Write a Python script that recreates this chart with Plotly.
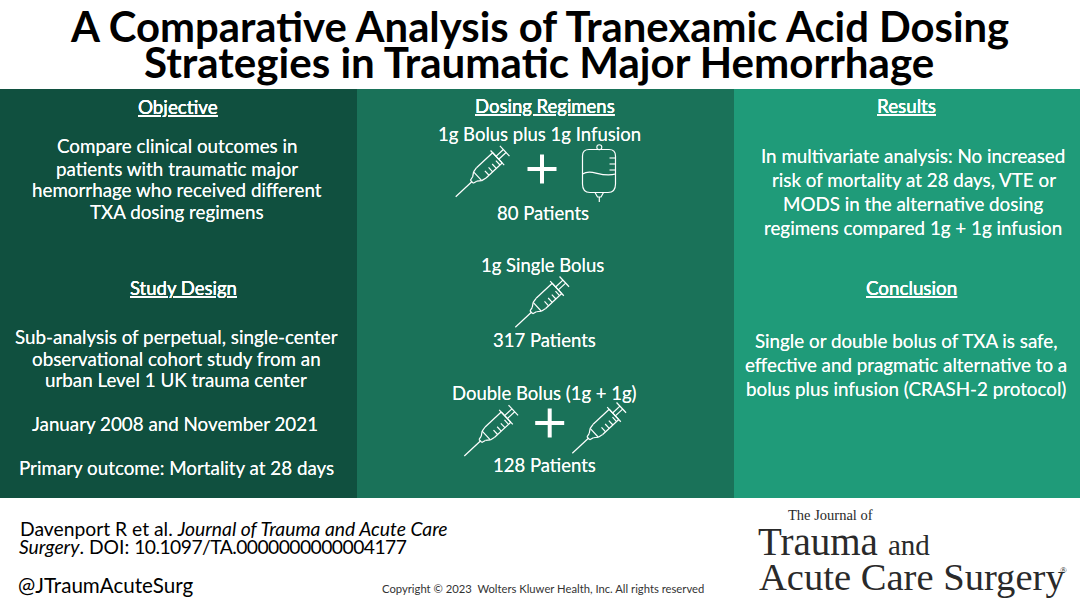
import math
import plotly.graph_objects as go

W, H = 1080, 608
SANS = "Lato"
SERIF = "Liberation Serif"
BODY = 18.8
MIDDLE = 18.5
FATTEN = "0 0 0.5px rgba(255,255,255,0.8)"

title_lines = ["A Comparative Analysis of Tranexamic Acid Dosing",
               "Strategies in Traumatic Major Hemorrhage"]
panel_colors = ["#10503f", "#1a7259", "#1f9b79"]

objective_lines = ["Compare clinical outcomes in", "patients with traumatic major",
                   "hemorrhage who received different", "TXA dosing regimens"]
design_lines = ["Sub-analysis of perpetual, single-center", "observational cohort study from an",
                "urban Level 1 UK trauma center"]
dates_line = "January 2008 and November 2021"
primary_line = "Primary outcome: Mortality at 28 days"

regimens = ["1g Bolus plus 1g Infusion", "1g Single Bolus", "Double Bolus (1g + 1g)"]
patients = ["80 Patients", "317 Patients", "128 Patients"]

results_lines = ["In multivariate analysis: No increased", "risk of mortality at 28 days, VTE or",
                 "MODS in the alternative dosing", "regimens compared 1g + 1g infusion"]
conclusion_lines = ["Single or double bolus of TXA is safe,", "effective and pragmatic alternative to a",
                    "bolus plus infusion (CRASH-2 protocol)"]

fig = go.Figure()
shapes = []
annos = []


def txt(x, y, s, size=BODY, color="white", font=SANS, anchor="center", shadow=FATTEN):
    annos.append(dict(x=x, y=y, text=s, showarrow=False, xanchor=anchor, yanchor="middle",
                      font=dict(family=font, size=size, color=color, shadow=shadow), align=anchor))


def line(x0, y0, x1, y1, width=1.2):
    shapes.append(dict(type="line", x0=x0, y0=y0, x1=x1, y1=y1,
                       line=dict(color="white", width=width)))


def syringe(tx, ty):
    # tip of the needle at tx, ty, the body goes up and to the right
    c = math.cos(math.radians(43))
    s = math.sin(math.radians(43))

    def p(t, w):
        return tx + t * c + w * s, ty - t * s + w * c

    def seg(t0, w0, t1, w1):
        a = p(t0, w0)
        b = p(t1, w1)
        line(a[0], a[1], b[0], b[1])

    seg(0, 0, 22, 0)
    outline = [(22, -2), (26, -3), (30, -6), (35, -7), (57, -7), (57, 7), (35, 7), (30, 6), (26, 3), (22, 2), (22, -2)]
    for a, b in zip(outline[:-1], outline[1:]):
        seg(a[0], a[1], b[0], b[1])
    seg(30, -6, 30, 6)
    seg(57, -10, 57, 10)
    seg(57, -2, 67, -2)
    seg(57, 2, 67, 2)
    seg(67, -7, 67, 7)
    for t in (39, 44, 49, 54):
        seg(t, 7, t, 1)


def plus(cx, cy, half):
    line(cx - half, cy, cx + half, cy, 4)
    line(cx, cy - half, cx, cy + half, 4)


def iv_bag():
    shapes.append(dict(type="path", line=dict(color="white", width=1.2),
                       path="M 589 149.5 L 609 149.5 Q 615.5 149.5 615.5 156 L 615.5 184 "
                            "Q 615.5 192.5 608 192.5 L 590 192.5 Q 582.5 192.5 582.5 184 "
                            "L 582.5 156 Q 582.5 149.5 589 149.5 Z"))
    shapes.append(dict(type="circle", x0=596.8, y0=144.8, x1=601.8, y1=149.6,
                       line=dict(color="white", width=1.1)))
    shapes.append(dict(type="path", line=dict(color="white", width=1.2),
                       path="M 582.5 174 C 592 168 600 178 615.5 174"))
    shapes.append(dict(type="path", line=dict(color="white", width=1.2),
                       path="M 595 192.5 L 597.5 197 L 601 197 L 603.5 192.5"))
    line(599.3, 197, 599.3, 202)
    for y in (158, 164, 170):
        line(609.5, y, 615.5, y, 1.1)


for x0, x1, col in zip((0, 357, 734), (357, 734, 1080), panel_colors):
    shapes.append(dict(type="rect", x0=x0, x1=x1, y0=89, y1=498, fillcolor=col, line=dict(width=0), layer="below"))

txt(539, 26, "<b>" + title_lines[0] + "</b>", 41.8, "black", shadow="none")
txt(539, 61, "<b>" + title_lines[1] + "</b>", 42.1, "black", shadow="none")

txt(178, 106, "<u>Objective</u>")
for y, s in zip((145, 168, 189, 211), objective_lines):
    txt(176.5, y, s)
txt(183, 288, "<u>Study Design</u>", MIDDLE)
for y, s in zip((336, 358, 379), design_lines):
    txt(176, y, s)
txt(175, 423, dates_line)
txt(176, 467, primary_line)

txt(545, 106, "<u>Dosing Regimens</u>", MIDDLE)
txt(539, 134, regimens[0], MIDDLE)
txt(543, 213, patients[0], MIDDLE)
txt(542.5, 265, regimens[1], MIDDLE)
txt(544, 340, patients[1], MIDDLE)
txt(544.5, 393, regimens[2], MIDDLE)
txt(544, 465, patients[2], MIDDLE)

syringe(455.7, 196.7)
syringe(515.3, 327.3)
syringe(464.3, 456)
syringe(572.3, 453.3)
plus(542, 169, 14.5)
plus(549.7, 423, 14.5)
iv_bag()

txt(906, 105, "<u>Results</u>")
for x, y, s in zip((913, 914, 913, 913), (155, 179, 203, 227), results_lines):
    txt(x, y, s)
txt(911, 287, "<u>Conclusion</u>")
for y, s in zip((340, 364, 388), conclusion_lines):
    txt(906, y, s)

txt(18, 528, "Davenport R et al. <i>Journal of Trauma and Acute Care</i>", 19.3, "black", anchor="left", shadow="none")
txt(17, 546, "<i>Surgery</i>. DOI: <span style=\"letter-spacing:-0.55px\">10.1097/TA.0000000000004177</span>",
    19.3, "black", anchor="left", shadow="none")
txt(16, 585, "@JTraumAcuteSurg", 20.6, "black", anchor="left", shadow="none")
txt(380, 588, "Copyright © 2023  Wolters Kluwer Health, Inc. All rights reserved", 11.25, "#333333", anchor="left", shadow="none")

txt(786, 515, "The Journal of", 14.5, "#2a2a2a", SERIF, "left", "none")
txt(756, 541, "Trauma", 39, "#2a2a2a", SERIF, "left", "none")
txt(886, 545, "and", 29, "#2a2a2a", SERIF, "left", "none")
txt(757, 577, "Acute Care Surgery", 38.6, "#2a2a2a", SERIF, "left", "none")
txt(1058, 570, "®", 9, "#2a2a2a", SERIF, "left", "none")

fig.update_layout(
    width=W, height=H, margin=dict(l=0, r=0, t=0, b=0), paper_bgcolor="white", plot_bgcolor="white",
    showlegend=False, shapes=shapes, annotations=annos,
    xaxis=dict(range=[0, W], visible=False, fixedrange=True),
    yaxis=dict(range=[H, 0], visible=False, fixedrange=True),
)
fig.write_html("out.html", config={"displayModeBar": False}, post_script="document.body.style.margin='0';")
